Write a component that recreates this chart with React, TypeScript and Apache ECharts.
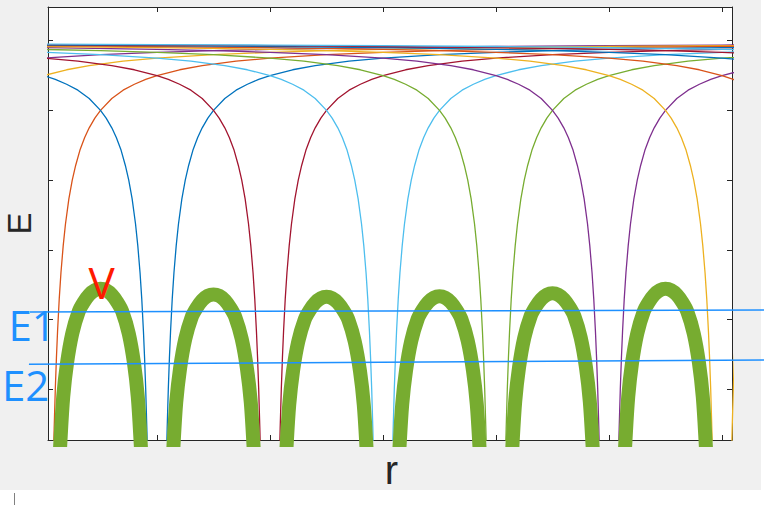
import React, { useEffect, useRef } from 'react';
import * as echarts from 'echarts';

// Well (nucleus) positions along r, in tick units, and their line colours
const wellPositions = [-2, -1, 0, 1, 2, 3, 4, 5, 6, 7, 8, 9, 10];
const wellColors = ['#7E2F8E', '#EDB120', '#D95319', '#0072BD', '#A2142F', '#4DBEEE', '#77AC30', '#7E2F8E', '#EDB120', '#D95319', '#0072BD', '#A2142F', '#4DBEEE'];

// Single-well potential profile: distance from well -> E
const wellOffsets = [0.07, 0.08, 0.09, 0.1, 0.11, 0.12, 0.135, 0.15, 0.17, 0.19, 0.22, 0.25, 0.28, 0.32, 0.36, 0.4, 0.45, 0.5, 0.6, 0.7, 0.8, 0.9, 1.0, 1.2, 1.4, 1.7, 2.0, 2.5, 3, 3.5, 4, 5, 6, 7, 8, 9, 10, 11, 12, 13];
const wellValues = [-7.14, -6.25, -5.56, -5.0, -4.55, -4.17, -3.7, -3.33, -2.94, -2.63, -2.27, -2.0, -1.79, -1.56, -1.39, -1.25, -1.11, -1.0, -0.83, -0.71, -0.625, -0.555, -0.5, -0.417, -0.357, -0.294, -0.25, -0.2, -0.167, -0.143, -0.125, -0.1, -0.083, -0.071, -0.0625, -0.0556, -0.05, -0.0455, -0.0417, -0.0385];

// Thick green arches (total potential between wells)
const archCenters = [0.5, 1.5, 2.5, 3.5, 4.5, 5.5];
const archPeaks = [-3.56, -3.64, -3.675, -3.667, -3.624, -3.56];
const archOffsets = [0, 0.05, 0.1, 0.15, 0.193, 0.25, 0.296, 0.33, 0.354, 0.38, 0.4];
const archDrops = [0, -0.02, -0.085, -0.195, -0.326, -0.64, -1.062, -1.55, -2.166, -3.0, -4.0];

// Energy levels E1, E2 (drawn beyond the axes)
const e1Level = [[-0.124, -3.892], [6.372, -3.864]];
const e2Level = [[-0.133, -4.643], [6.372, -4.581]];

// Axis ranges and tick values
const xRange = [0.0354, 6.0885];
const yRange = [-5.729, 0.4835];
const xTicks = [1, 2, 3, 4, 5, 6];
const yTicks = [0, -1, -2, -3, -4, -5];

const AXIS = '#262626';
const ELEVEL = '#1E90FF';

export default function App() {
  const ref = useRef<HTMLDivElement>(null);
  useEffect(() => {
    const chart = echarts.init(ref.current!, undefined, { renderer: 'svg' });

    const wellSeries = wellPositions.map((k, i) => {
      const left: number[][] = [];
      for (let j = wellOffsets.length - 1; j >= 0; j--) left.push([k - wellOffsets[j], wellValues[j]]);
      const right: number[][] = wellOffsets.map((d, j) => [k + d, wellValues[j]]);
      return {
        type: 'line',
        data: [...left, ...right],
        showSymbol: false,
        symbol: 'none',
        silent: true,
        clip: true,
        z: 2,
        lineStyle: { color: wellColors[i], width: 1.3 },
      };
    });

    const archSeries = archCenters.map((c, i) => {
      const pts: number[][] = [];
      for (let j = archOffsets.length - 1; j > 0; j--) pts.push([c - archOffsets[j], archPeaks[i] + archDrops[j]]);
      for (let j = 0; j < archOffsets.length; j++) pts.push([c + archOffsets[j], archPeaks[i] + archDrops[j]]);
      return {
        type: 'line',
        data: pts,
        smooth: 0.3,
        showSymbol: false,
        symbol: 'none',
        silent: true,
        clip: true,
        z: 3,
        lineStyle: { color: '#77AC30', width: 14, cap: 'butt', join: 'round' },
      };
    });

    const mkX = (position: string) => ({
      type: 'value',
      position,
      min: xRange[0],
      max: xRange[1],
      axisLine: { show: true, onZero: false, lineStyle: { color: AXIS, width: 1 } },
      axisTick: { show: true, inside: true, length: 5, customValues: xTicks, lineStyle: { color: AXIS, width: 1 } },
      axisLabel: { show: false },
      splitLine: { show: false },
    });
    const mkY = (position: string) => ({
      type: 'value',
      position,
      min: yRange[0],
      max: yRange[1],
      axisLine: { show: true, onZero: false, lineStyle: { color: AXIS, width: 1 } },
      axisTick: { show: true, inside: true, length: 5, customValues: yTicks, lineStyle: { color: AXIS, width: 1 } },
      axisLabel: { show: false },
      splitLine: { show: false },
    });

    const txt = (text: string, x: number, y: number, size: number, family: string, color: string, align: string, rotation = 0) => ({
      type: 'text',
      x,
      y,
      rotation,
      z: 100,
      silent: true,
      style: {
        text,
        fill: color,
        fontSize: size,
        fontFamily: family,
        align,
        verticalAlign: 'middle',
        textAlign: align,
        textVerticalAlign: 'middle',
      },
    });

    const baseGraphic: any[] = [
      { type: 'rect', z: -1, silent: true, shape: { x: 0, y: 490, width: 764, height: 15 }, style: { fill: '#ffffff' } },
      { type: 'rect', z: -1, silent: true, shape: { x: 761, y: 0, width: 3, height: 490 }, style: { fill: '#ffffff' } },
      { type: 'line', z: 1, silent: true, shape: { x1: 14.5, y1: 493, x2: 14.5, y2: 505 }, style: { stroke: '#808080', lineWidth: 1 } },
      txt('E', 19, 223.5, 33, '"Liberation Sans", Arial, sans-serif', '#262626', 'center', Math.PI / 2),
      txt('r', 391.5, 470, 40, '"Liberation Sans", Arial, sans-serif', '#262626', 'center'),
      txt('V', 101.5, 282, 44, '"Open Sans", sans-serif', '#FF1A00', 'center'),
      txt('E1', 8.5, 324, 42, '"Open Sans", sans-serif', ELEVEL, 'left'),
      txt('E2', 2, 384.5, 42, '"Open Sans", sans-serif', ELEVEL, 'left'),
    ];

    chart.setOption({
      animation: false,
      backgroundColor: '#f0f0f0',
      grid: { left: 48, top: 7, right: 32, bottom: 65, show: true, backgroundColor: '#ffffff', borderWidth: 0 },
      xAxis: [mkX('bottom'), mkX('top')],
      yAxis: [mkY('left'), mkY('right')],
      series: [...wellSeries, ...archSeries],
      graphic: baseGraphic,
    });

    // Energy level lines extend beyond the axes: map their data through the chart's scales
    const levelLines = [e1Level, e2Level].map((lv) => {
      const a = chart.convertToPixel({ gridIndex: 0 }, lv[0]) as number[];
      const b = chart.convertToPixel({ gridIndex: 0 }, lv[1]) as number[];
      return {
        type: 'line',
        z: 50,
        silent: true,
        shape: { x1: a[0], y1: a[1], x2: b[0], y2: b[1] },
        style: { stroke: ELEVEL, lineWidth: 1.5 },
      };
    });
    chart.setOption({ graphic: [...baseGraphic, ...levelLines] });

    return () => chart.dispose();
  }, []);
  return <div ref={ref} style={{ position: 'fixed', left: 0, top: 0, width: 764, height: 505 }} />;
}
